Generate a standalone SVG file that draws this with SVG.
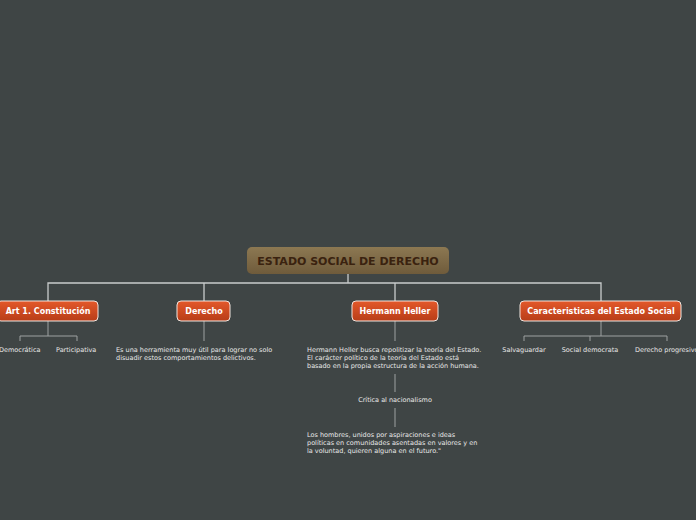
<svg xmlns="http://www.w3.org/2000/svg" width="696" height="520" viewBox="0 0 696 520">
<defs>
<linearGradient id="gm" x1="0" y1="0" x2="0" y2="1"><stop offset="0" stop-color="#8c7852"/><stop offset="1" stop-color="#6f5b3b"/></linearGradient>
<linearGradient id="go" x1="0" y1="0" x2="0" y2="1"><stop offset="0" stop-color="#e3582a"/><stop offset="1" stop-color="#b83d18"/></linearGradient>
<style>
.o{fill:url(#go);stroke:#f0e6e0;stroke-width:1}
.ot{font-family:"DejaVu Sans",sans-serif;font-size:8px;font-weight:bold;fill:#fff;text-anchor:middle}
.t{font-family:"DejaVu Sans",sans-serif;font-size:6.5px;fill:#e8e8e8}
.c{fill:none;stroke:#c9cccc;stroke-width:1.3}
.s{fill:none;stroke:#9ea2a2;stroke-width:1}
</style>
</defs>
<rect width="696" height="520" fill="#3f4545"/>
<g id="connectors">
<path class="c" d="M348 274V283M48 301V283H601V301M204 283V301M395 283V301"/>
<path class="s" d="M48 321V336M20 341V336H77V341M204 321V341M395 321V341M601 321V336M524 341V336H667V341M590 336V341M395 374V392M395 408V427"/>
</g>
<g id="main"><rect x="247" y="247" width="202" height="27" rx="5" fill="url(#gm)"/><text x="348" y="265" text-anchor="middle" font-family="DejaVu Sans,sans-serif" font-size="11px" font-weight="bold" fill="#3a220f">ESTADO SOCIAL DE DERECHO</text></g>
<g id="art1"><rect class="o" x="-3" y="301" width="101" height="20" rx="4"/><text class="ot" x="48" y="314">Art 1. Constitución</text></g>
<g id="derecho"><rect class="o" x="177" y="301" width="53" height="20" rx="4"/><text class="ot" x="204" y="314">Derecho</text></g>
<g id="heller"><rect class="o" x="352" y="301" width="86" height="20" rx="4"/><text class="ot" x="395" y="314">Hermann Heller</text></g>
<g id="caract"><rect class="o" x="520" y="301" width="161" height="20" rx="4"/><text class="ot" x="601" y="314">Caracteristicas del Estado Social</text></g>
<g id="democratica"><text class="t" x="-1" y="352">Democrática</text></g>
<g id="participativa"><text class="t" x="56" y="352">Participativa</text></g>
<g id="derecho-txt"><text class="t" x="116" y="352">Es una herramienta muy útil para lograr no solo</text><text class="t" x="116" y="360">disuadir estos comportamientos delictivos.</text></g>
<g id="heller-txt"><text class="t" x="307" y="352">Hermann Heller busca repolitizar la teoría del Estado.</text><text class="t" x="307" y="360">El carácter político de la teoría del Estado está</text><text class="t" x="307" y="368">basado en la propia estructura de la acción humana.</text></g>
<g id="critica"><text class="t" x="395" y="402" text-anchor="middle">Crítica al nacionalismo</text></g>
<g id="hombres"><text class="t" x="307" y="437">Los hombres, unidos por aspiraciones e ideas</text><text class="t" x="307" y="445">políticas en comunidades asentadas en valores y en</text><text class="t" x="307" y="453">la voluntad, quieren alguna en el futuro."</text></g>
<g id="salvaguardar"><text class="t" x="524" y="352" text-anchor="middle">Salvaguardar</text></g>
<g id="socialdem"><text class="t" x="590" y="352" text-anchor="middle">Social democrata</text></g>
<g id="progresivo"><text class="t" x="635" y="352">Derecho progresivo</text></g>
</svg>
